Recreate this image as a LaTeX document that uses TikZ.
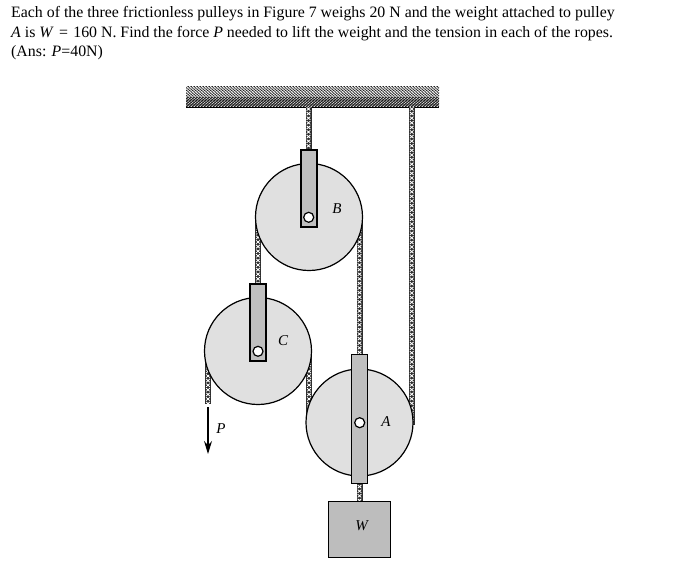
\documentclass[tikz,border=0pt]{standalone}
\usepackage{fontspec}
\setmainfont{Liberation Serif}
\usepackage{xcolor}
\usetikzlibrary{arrows.meta,decorations.markings}
\definecolor{wheelgray}{HTML}{E0E0E0}
\definecolor{strapgray}{HTML}{BFBFBF}
\definecolor{blockgray}{HTML}{BDBDBD}
\definecolor{ropedark}{HTML}{2E2E2E}
\tikzset{
    wheel/.style={draw,circle,fill=wheelgray,line width=1.2pt,minimum size=107pt,inner sep=0pt,outer sep=0pt},
    strap/.style={draw,fill=strapgray,line width=1.2pt,minimum width=16pt,inner sep=0pt,outer sep=0pt},
    hole/.style={draw,circle,fill=white,line width=1.2pt,minimum size=10pt,inner sep=0pt},
    rope/.style={draw=ropedark,line width=6pt,postaction={decorate,decoration={markings,
        mark=between positions 2pt and 1 step 4.6pt with {
        \draw[white,line width=.8pt] (-1.6pt,-1.8pt) -- (1.6pt,1.8pt) (-1.6pt,1.8pt) -- (1.6pt,-1.8pt);}}}},
    block/.style={draw,fill=blockgray,line width=1.2pt,minimum width=62pt,minimum height=56pt,inner sep=0pt,outer sep=0pt},
    lbl/.style={font=\itshape\fontsize{15}{15}\selectfont,inner sep=0pt},
    >={Stealth[length=13pt,width=8pt]}
}
\def\rp#1#2{\draw[rope] (#1) to (#2);}
% pulley: name, centre, strap top, strap bottom
\newcommand{\npulley}[4]{
    \node[wheel] (#1) at (#2) {};
    \node[strap,fit height=#3:#4] (#1s) at (#2) {};
}
\tikzset{fit height/.code args={#1:#2}{\pgfmathsetmacro\hh{#2-#1}\tikzset{minimum height=\hh pt,yshift=-(#1+#2)/2*1pt}}}
\begin{document}
\begin{tikzpicture}[x=1pt,y=-1pt]
    \useasboundingbox (0,0) rectangle (675,570);

    \node[anchor=north west,align=left,inner sep=0pt,font=\fontsize{15.85}{19.4}\selectfont] (txt) at (11,6.5)
    {Each of the three frictionless pulleys in Figure 7 weighs 20 N and the weight attached to pulley\\
    \textit{A} is \textit{W}\,\,=\,\,160 N. Find the force \textit{P} needed to lift the weight and the tension in each of the ropes.\\
    (Ans: \textit{P}=40N)};

    % ceiling
    \node[fill=black!50,minimum width=253pt,minimum height=21pt,inner sep=0pt,outer sep=0pt] (ceil) at (312.5,96.5) {};
    \begin{scope}
        \clip (ceil.south west) rectangle (ceil.north east);
        \foreach \k in {0,3,...,280} {
            \draw[black!90,line width=.9pt] (186+\k-24,107) -- ++(24,-21);
            \draw[white,line width=.7pt] (186+\k-24,86) -- ++(24,21);
        }
    \end{scope}
    \draw[line width=1pt] (ceil.south west) -- (ceil.south east);

    \coordinate (c1) at (308.5,107);
    \coordinate (c2) at (411.7,107);
    \coordinate (b1) at (258,217);
    \coordinate (b2) at (359.5,217);
    \coordinate (p1) at (208,351);
    \coordinate (p2) at (208,404);
    \coordinate (q1) at (309,351);
    \coordinate (q2) at (309,423);
    \coordinate (a2) at (411.7,425);
    \coordinate (e1) at (208,407);
    \coordinate (e2) at (208,454);

    \rp{c1}{308.5,152}
    \rp{c2}{a2}
    \rp{b1}{258,286}
    \rp{b2}{359.5,357}
    \rp{p1}{p2}
    \rp{q1}{q2}
    \rp{359.5,480}{359.5,503}

    \npulley{B}{309,217}{-67}{10}
    \npulley{C}{258,351}{-67}{10}
    \npulley{A}{359.5,422.5}{-68}{61}

    \node[hole] (Bh) at (308.7,217.3) {};
    \node[hole] (Ch) at (258,351.3) {};
    \node[hole] (Ah) at (359.7,422.7) {};

    \node[block] (W) at (359.7,529.2) {};
    \draw[->,line width=1.2pt] (e1) -- (e2);

    \node[lbl] (lb) at (337,209) {B};
    \node[lbl] (lc) at (283,341) {C};
    \node[lbl] (la) at (386,422) {A};
    \node[lbl] (lw) at (361.5,526) {W};
    \node[lbl] (lp) at (221,429) {P};
\end{tikzpicture}
\end{document}
